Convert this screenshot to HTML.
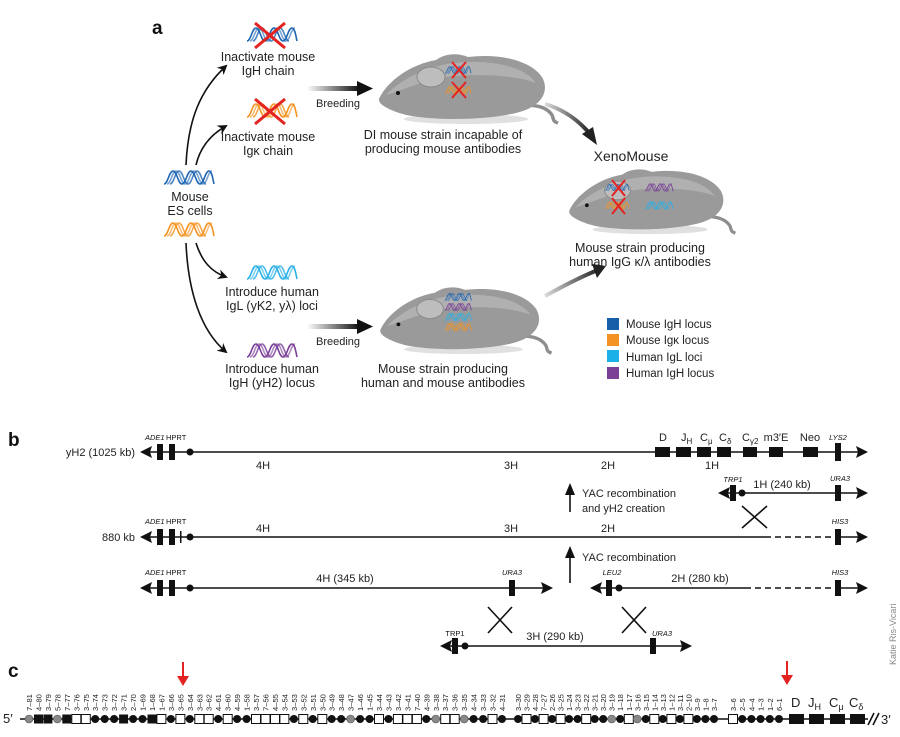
<!DOCTYPE html>
<html><head><meta charset="utf-8"><style>
html,body{margin:0;padding:0;background:#fff;}
svg{display:block;font-family:"Liberation Sans",sans-serif;}
.t{font-size:12.5px;fill:#222;text-anchor:middle}
.s{font-size:11px;fill:#222}
.i{font-size:7.5px;font-style:italic;fill:#111}
.g{font-size:7.5px;fill:#222}
.lb{font-size:7.6px;fill:#222}
</style></head><body>
<svg width="900" height="737" viewBox="0 0 900 737" xmlns="http://www.w3.org/2000/svg">
<defs>
<symbol id="dna" viewBox="0 0 50 15" overflow="visible">
<g fill="none" stroke="currentColor" stroke-width="1.6">
<path d="M0,14 C4,14 5,1 9,1 C13,1 14,14 18,14 C22,14 23,1 27,1 C31,1 32,14 36,14 C40,14 41,1 45,1 C48,1 49,10 50,14"/>
<path d="M3,14 C7,14 8,1 12,1 C16,1 17,14 21,14 C25,14 26,1 30,1 C34,1 35,14 39,14 C43,14 44,1 48,1" opacity=".6"/>
<path d="M6,14 C10,14 11,1 15,1 C19,1 20,14 24,14 C28,14 29,1 33,1 C37,1 38,14 42,14" opacity=".8"/>
</g></symbol>
<symbol id="mouse" viewBox="0 0 180 70" overflow="visible">
<ellipse cx="90" cy="64" rx="62" ry="5" fill="#d8d8d8" opacity=".8"/>
<path d="M148,50 C165,50 172,54 176,60 C178,64 176,66 182,68" fill="none" stroke="#8e8e8e" stroke-width="3.5"/>
<path d="M3,44 C10,28 32,10 60,5 C70,-2 82,-2 92,2 C125,-2 155,6 166,22 C174,36 166,52 140,58 C110,65 60,66 30,60 C15,56 2,50 3,44 Z" fill="#9a9a9a"/>
<path d="M10,40 C25,24 55,8 90,7 C125,6 150,14 160,28 C140,20 100,18 70,22 C45,26 25,36 10,40 Z" fill="#b0b0b0"/>
<ellipse cx="55" cy="22" rx="14" ry="10" fill="#bdbdbd" stroke="#8a8a8a"/>
<circle cx="22" cy="38" r="2" fill="#111"/>
</symbol>
<marker id="ah" markerWidth="10" markerHeight="10" refX="8" refY="5" orient="auto" markerUnits="userSpaceOnUse"><path d="M0,0 L10,5 L0,10 L3,5 Z" fill="#111"/></marker>
<g id="bc"><circle cx="0" cy="719" r="4" fill="#111"/></g>
<g id="gc"><circle cx="0" cy="719" r="4" fill="#888" stroke="#555" stroke-width=".6"/></g>
<g id="ws"><rect x="-4.5" y="714.5" width="9" height="9" fill="#fff" stroke="#111" stroke-width="1"/></g>
<g id="bs"><rect x="-4.5" y="714.5" width="9" height="9" fill="#111"/></g>
</defs>

<text x="152" y="34" style="font-size:19px;font-weight:bold" fill="#111">a</text>

<use href="#dna" x="247" y="27" width="50" height="15" style="color:#1f66b3"/>
<path d="M255,23 L285,48 M285,23 L255,48" stroke="#e42320" stroke-width="3"/>
<text class="t" x="268" y="61">Inactivate mouse</text>
<text class="t" x="268" y="75">IgH chain</text>

<use href="#dna" x="247" y="103" width="50" height="15" style="color:#f39321"/>
<path d="M255,99 L285,124 M285,99 L255,124" stroke="#e42320" stroke-width="3"/>
<text class="t" x="268" y="141">Inactivate mouse</text>
<text class="t" x="268" y="155">Igκ chain</text>

<use href="#dna" x="164" y="170" width="50" height="15" style="color:#1f66b3"/>
<text class="t" x="190" y="201">Mouse</text>
<text class="t" x="190" y="215">ES cells</text>
<use href="#dna" x="164" y="222" width="50" height="15" style="color:#f39321"/>

<use href="#dna" x="247" y="265" width="50" height="15" style="color:#2ab0e6"/>
<text class="t" x="272" y="296">Introduce human</text>
<text class="t" x="272" y="310">IgL (yK2, yλ) loci</text>

<use href="#dna" x="247" y="343" width="50" height="15" style="color:#7b3f98"/>
<text class="t" x="272" y="373">Introduce human</text>
<text class="t" x="272" y="387">IgH (yH2) locus</text>

<g fill="none" stroke="#111" stroke-width="1.6" marker-end="url(#ah)">
<path d="M186,165 C188,120 200,90 226,66"/>
<path d="M196,165 C200,148 210,135 226,126"/>
<path d="M196,243 C202,262 212,272 226,277"/>
<path d="M186,243 C188,290 200,330 226,352"/>
</g>

<defs><linearGradient id="gr" x1="0" x2="1"><stop offset="0" stop-color="#fff"/><stop offset="1" stop-color="#111"/></linearGradient>
<linearGradient id="gr2" x1="0" x2="1" y1="0" y2="0"><stop offset="0" stop-color="#ddd"/><stop offset="1" stop-color="#222"/></linearGradient></defs>
<rect x="307" y="86" width="52" height="5" fill="url(#gr)"/>
<path d="M357,81 L373,88.5 L357,96 Z" fill="#111"/>
<text class="s" x="316" y="107">Breeding</text>
<rect x="307" y="324" width="52" height="5" fill="url(#gr)"/>
<path d="M357,319 L373,326.5 L357,334 Z" fill="#111"/>
<text class="s" x="316" y="345">Breeding</text>

<use href="#mouse" x="376" y="55" width="180" height="70"/>
<use href="#dna" x="445" y="65" width="26" height="10" style="color:#1f66b3"/>
<path d="M452,62 L466,78 M466,62 L452,78" stroke="#e42320" stroke-width="2"/>
<use href="#dna" x="445" y="85" width="26" height="10" style="color:#f39321"/>
<path d="M452,82 L466,98 M466,82 L452,98" stroke="#e42320" stroke-width="2"/>
<text class="t" x="443" y="139">DI mouse strain incapable of</text>
<text class="t" x="443" y="153">producing mouse antibodies</text>

<use href="#mouse" x="376" y="288" width="175" height="67"/>
<use href="#dna" x="444" y="293" width="28" height="8" style="color:#1f66b3"/>
<use href="#dna" x="444" y="303" width="28" height="8" style="color:#7b3f98"/>
<use href="#dna" x="444" y="313" width="28" height="8" style="color:#2ab0e6"/>
<use href="#dna" x="444" y="323" width="28" height="8" style="color:#f39321"/>
<text class="t" x="443" y="373">Mouse strain producing</text>
<text class="t" x="443" y="387">human and mouse antibodies</text>

<path d="M545,104 C565,110 580,122 590,134" fill="none" stroke="url(#gr2)" stroke-width="4"/>
<path d="M582,134 L597,145 L593,127 Z" fill="#222"/>
<path d="M545,296 C565,285 585,275 598,270" fill="none" stroke="url(#gr2)" stroke-width="4"/>
<path d="M592,264 L606,266 L597,278 Z" fill="#222"/>

<text class="t" x="631" y="161" style="font-size:14px">XenoMouse</text>
<use href="#mouse" x="565" y="170" width="170" height="65"/>
<use href="#dna" x="605" y="183" width="24" height="9" style="color:#1f66b3"/>
<path d="M612,180 L625,196 M625,180 L612,196" stroke="#e42320" stroke-width="2"/>
<use href="#dna" x="645" y="183" width="28" height="9" style="color:#7b3f98"/>
<use href="#dna" x="605" y="201" width="24" height="9" style="color:#f39321"/>
<path d="M612,198 L625,214 M625,198 L612,214" stroke="#e42320" stroke-width="2"/>
<use href="#dna" x="645" y="201" width="28" height="9" style="color:#2ab0e6"/>
<text class="t" x="640" y="252">Mouse strain producing</text>
<text class="t" x="640" y="266">human IgG κ/λ antibodies</text>

<rect x="607" y="318" width="12" height="12" fill="#1560a8"/>
<rect x="607" y="334" width="12" height="12" fill="#f39321"/>
<rect x="607" y="350" width="12" height="12" fill="#1bb0e8"/>
<rect x="607" y="367" width="12" height="12" fill="#7b3f98"/>
<text class="s" x="626" y="328" style="font-size:11.5px">Mouse IgH locus</text>
<text class="s" x="626" y="344" style="font-size:11.5px">Mouse Igκ locus</text>
<text class="s" x="626" y="361" style="font-size:11.5px">Human IgL loci</text>
<text class="s" x="626" y="377" style="font-size:11.5px">Human IgH locus</text>

<text x="8" y="446" style="font-size:19px;font-weight:bold" fill="#111">b</text>
<g stroke="#111" stroke-width="1.6" fill="none">
<line x1="148" y1="452" x2="860" y2="452"/>
<line x1="148" y1="537" x2="765" y2="537"/>
<line x1="765" y1="537" x2="835" y2="537" stroke-dasharray="6,4"/>
<line x1="840" y1="537" x2="860" y2="537"/>
<line x1="725" y1="493" x2="860" y2="493"/>
<line x1="148" y1="588" x2="545" y2="588"/>
<line x1="596" y1="588" x2="745" y2="588"/>
<line x1="745" y1="588" x2="835" y2="588" stroke-dasharray="6,4"/>
<line x1="840" y1="588" x2="860" y2="588"/>
<line x1="445" y1="646" x2="685" y2="646"/>
<line x1="570" y1="512" x2="570" y2="490"/>
<line x1="570" y1="583" x2="570" y2="553"/>
<path d="M742,506 L767,528 M767,506 L742,528"/>
<path d="M488,607 L512,633 M512,607 L488,633"/>
<path d="M622,607 L646,633 M646,607 L622,633"/>
</g>
<g fill="#111">
<path d="M140,452 L152,446 L150,452 L152,458 Z"/><path d="M868,452 L856,446 L858,452 L856,458 Z"/>
<path d="M140,537 L152,531 L150,537 L152,543 Z"/><path d="M868,537 L856,531 L858,537 L856,543 Z"/>
<path d="M718,493 L730,487 L728,493 L730,499 Z"/><path d="M868,493 L856,487 L858,493 L856,499 Z"/>
<path d="M140,588 L152,582 L150,588 L152,594 Z"/><path d="M553,588 L541,582 L543,588 L541,594 Z"/>
<path d="M590,588 L602,582 L600,588 L602,594 Z"/><path d="M868,588 L856,582 L858,588 L856,594 Z"/>
<path d="M440,646 L452,640 L450,646 L452,652 Z"/><path d="M692,646 L680,640 L682,646 L680,652 Z"/>
<path d="M570,483 L565,495 L575,495 Z"/><path d="M570,546 L565,558 L575,558 Z"/>
<rect x="157" y="444" width="6" height="16"/><rect x="169" y="444" width="6" height="16"/><circle cx="190" cy="452" r="3.5"/>
<rect x="655" y="447" width="15" height="10"/><rect x="676" y="447" width="15" height="10"/><rect x="697" y="447" width="14" height="10"/><rect x="717" y="447" width="14" height="10"/>
<rect x="743" y="447" width="14" height="10"/><rect x="769" y="447" width="14" height="10"/><rect x="803" y="447" width="15" height="10"/><rect x="835" y="443" width="6" height="18"/>
<rect x="730" y="485" width="6" height="16"/><circle cx="742" cy="493" r="3.5"/><rect x="835" y="485" width="6" height="16"/>
<rect x="157" y="529" width="6" height="16"/><rect x="169" y="529" width="6" height="16"/><rect x="180" y="531" width="1.5" height="12"/><circle cx="190" cy="537" r="3.5"/><rect x="835" y="529" width="6" height="16"/>
<rect x="157" y="580" width="6" height="16"/><rect x="169" y="580" width="6" height="16"/><circle cx="190" cy="588" r="3.5"/><rect x="509" y="580" width="6" height="16"/>
<rect x="606" y="580" width="6" height="16"/><circle cx="619" cy="588" r="3.5"/><rect x="835" y="580" width="6" height="16"/>
<rect x="452" y="638" width="6" height="16"/><circle cx="465" cy="646" r="3.5"/><rect x="650" y="638" width="6" height="16"/>
</g>
<g class="s" style="font-size:11px">
<text x="135" y="456" text-anchor="end">yH2 (1025 kb)</text>
<text x="135" y="541" text-anchor="end">880 kb</text>
<text x="263" y="469" text-anchor="middle">4H</text><text x="511" y="469" text-anchor="middle">3H</text><text x="608" y="469" text-anchor="middle">2H</text><text x="712" y="469" text-anchor="middle">1H</text>
<text x="263" y="532" text-anchor="middle">4H</text><text x="511" y="532" text-anchor="middle">3H</text><text x="608" y="532" text-anchor="middle">2H</text>
<text x="782" y="488" text-anchor="middle">1H (240 kb)</text>
<text x="582" y="497">YAC recombination</text>
<text x="582" y="512">and yH2 creation</text>
<text x="582" y="561">YAC recombination</text>
<text x="345" y="582" text-anchor="middle">4H (345 kb)</text>
<text x="700" y="582" text-anchor="middle">2H (280 kb)</text>
<text x="555" y="640" text-anchor="middle">3H (290 kb)</text>
<text x="663" y="441" text-anchor="middle">D</text>
<text x="681" y="441">J<tspan dy="3" style="font-size:8px">H</tspan></text>
<text x="700" y="441">C<tspan dy="3" style="font-size:8px">μ</tspan></text>
<text x="719" y="441">C<tspan dy="3" style="font-size:8px">δ</tspan></text>
<text x="742" y="441">C<tspan dy="3" style="font-size:8px">γ2</tspan></text>
<text x="776" y="441" text-anchor="middle">m3′E</text>
<text x="810" y="441" text-anchor="middle">Neo</text>
</g>
<g class="i">
<text x="145" y="440">ADE1</text><text x="166" y="440" style="font-style:normal">HPRT</text>
<text x="145" y="524">ADE1</text><text x="166" y="524" style="font-style:normal">HPRT</text>
<text x="145" y="575">ADE1</text><text x="166" y="575" style="font-style:normal">HPRT</text>
<text x="838" y="440" text-anchor="middle">LYS2</text>
<text x="733" y="482" text-anchor="middle">TRP1</text><text x="840" y="481" text-anchor="middle">URA3</text>
<text x="840" y="524" text-anchor="middle">HIS3</text><text x="840" y="575" text-anchor="middle">HIS3</text>
<text x="512" y="575" text-anchor="middle">URA3</text><text x="612" y="575" text-anchor="middle">LEU2</text>
<text x="455" y="636" text-anchor="middle" style="font-style:normal">TRP1</text><text x="662" y="636" text-anchor="middle">URA3</text>
</g>
<text x="896" y="665" transform="rotate(-90 896 665)" style="font-size:9px" fill="#888">Katie Ris-Vicari</text>

<text x="8" y="677" style="font-size:19px;font-weight:bold" fill="#111">c</text>
<g fill="#e42320" stroke="#e42320" stroke-width="2">
<line x1="183" y1="662" x2="183" y2="678"/><path d="M177,676 L189,676 L183,686 Z" stroke="none"/>
<line x1="787" y1="661" x2="787" y2="677"/><path d="M781,675 L793,675 L787,685 Z" stroke="none"/>
</g>
<text x="3" y="723" style="font-size:13px" fill="#222">5′</text>
<line x1="20" y1="719" x2="868" y2="719" stroke="#111" stroke-width="1.5"/>
<path d="M868,725 L874,713 M873,725 L879,713" stroke="#111" stroke-width="1.6"/>
<text x="881" y="724" style="font-size:13px" fill="#222">3′</text>
<g fill="#111"><rect x="789" y="714" width="15" height="10"/><rect x="809" y="714" width="15" height="10"/><rect x="830" y="714" width="15" height="10"/><rect x="850" y="714" width="15" height="10"/></g>
<g style="font-size:13px" fill="#222">
<text x="791" y="707">D</text>
<text x="808" y="707">J<tspan dy="3" style="font-size:9px">H</tspan></text>
<text x="829" y="707">C<tspan dy="3" style="font-size:9px">μ</tspan></text>
<text x="849" y="707">C<tspan dy="3" style="font-size:9px">δ</tspan></text>
</g>

<use href="#gc" x="29"/><use href="#bs" x="38.5"/><use href="#bs" x="47.9"/><use href="#gc" x="57.4"/><use href="#bs" x="66.8"/>
<use href="#ws" x="76.3"/><use href="#ws" x="85.8"/><use href="#bc" x="95.2"/><use href="#bc" x="104.7"/><use href="#bc" x="114.1"/>
<use href="#bs" x="123.6"/><use href="#bc" x="133.1"/><use href="#bc" x="142.5"/><use href="#bs" x="152"/><use href="#ws" x="161.4"/>
<use href="#bc" x="170.9"/><use href="#ws" x="180.4"/><use href="#bc" x="189.8"/><use href="#ws" x="199.3"/><use href="#ws" x="208.7"/>
<use href="#bc" x="218.2"/><use href="#ws" x="227.7"/><use href="#bc" x="237.1"/><use href="#bc" x="246.6"/><use href="#ws" x="256"/>
<use href="#ws" x="265.5"/><use href="#ws" x="275"/><use href="#ws" x="284.4"/><use href="#bc" x="293.9"/><use href="#ws" x="303.3"/>
<use href="#bc" x="312.8"/><use href="#ws" x="322.3"/><use href="#bc" x="331.7"/><use href="#bc" x="341.2"/><use href="#gc" x="350.6"/>
<use href="#bc" x="360.1"/><use href="#bc" x="369.6"/><use href="#ws" x="379"/><use href="#bc" x="388.5"/><use href="#ws" x="397.9"/>
<use href="#ws" x="407.4"/><use href="#ws" x="416.9"/><use href="#bc" x="426.3"/><use href="#gc" x="435.8"/><use href="#ws" x="445.2"/>
<use href="#ws" x="454.7"/><use href="#gc" x="464.2"/><use href="#bc" x="473.6"/><use href="#bc" x="483.1"/><use href="#ws" x="492.5"/><use href="#bc" x="502"/>
<use href="#bc" x="518"/><use href="#ws" x="526.5"/><use href="#bc" x="535"/><use href="#ws" x="543.6"/><use href="#bc" x="552.1"/>
<use href="#ws" x="560.6"/><use href="#bc" x="569.1"/><use href="#bc" x="577.6"/><use href="#ws" x="586.2"/><use href="#bc" x="594.7"/>
<use href="#bc" x="603.2"/><use href="#gc" x="611.7"/><use href="#bc" x="620.2"/><use href="#ws" x="628.8"/><use href="#gc" x="637.3"/>
<use href="#bc" x="645.8"/><use href="#ws" x="654.3"/><use href="#bc" x="662.8"/><use href="#ws" x="671.4"/><use href="#bc" x="679.9"/>
<use href="#ws" x="688.4"/><use href="#bc" x="696.9"/><use href="#bc" x="705.4"/><use href="#bc" x="714"/>
<use href="#ws" x="733"/><use href="#bc" x="742.2"/><use href="#bc" x="751.4"/><use href="#bc" x="760.6"/><use href="#bc" x="769.8"/><use href="#bc" x="779"/>

<g class="lb">
<text transform="translate(32,711) rotate(-90)">7–81</text><text transform="translate(41.5,711) rotate(-90)">4–80</text><text transform="translate(50.9,711) rotate(-90)">3–79</text><text transform="translate(60.4,711) rotate(-90)">5–78</text><text transform="translate(69.8,711) rotate(-90)">7–77</text>
<text transform="translate(79.3,711) rotate(-90)">3–76</text><text transform="translate(88.8,711) rotate(-90)">3–75</text><text transform="translate(98.2,711) rotate(-90)">3–74</text><text transform="translate(107.7,711) rotate(-90)">3–73</text><text transform="translate(117.1,711) rotate(-90)">3–72</text>
<text transform="translate(126.6,711) rotate(-90)">3–71</text><text transform="translate(136.1,711) rotate(-90)">2–70</text><text transform="translate(145.5,711) rotate(-90)">1–69</text><text transform="translate(155,711) rotate(-90)">1–68</text><text transform="translate(164.4,711) rotate(-90)">1–67</text>
<text transform="translate(173.9,711) rotate(-90)">3–66</text><text transform="translate(183.4,711) rotate(-90)">3–65</text><text transform="translate(192.8,711) rotate(-90)">3–64</text><text transform="translate(202.3,711) rotate(-90)">3–63</text><text transform="translate(211.7,711) rotate(-90)">3–62</text>
<text transform="translate(221.2,711) rotate(-90)">4–61</text><text transform="translate(230.7,711) rotate(-90)">3–60</text><text transform="translate(240.1,711) rotate(-90)">4–59</text><text transform="translate(249.6,711) rotate(-90)">1–58</text><text transform="translate(259,711) rotate(-90)">3–57</text>
<text transform="translate(268.5,711) rotate(-90)">7–56</text><text transform="translate(278,711) rotate(-90)">4–55</text><text transform="translate(287.4,711) rotate(-90)">3–54</text><text transform="translate(296.9,711) rotate(-90)">3–53</text><text transform="translate(306.3,711) rotate(-90)">3–52</text>
<text transform="translate(315.8,711) rotate(-90)">3–51</text><text transform="translate(325.3,711) rotate(-90)">3–50</text><text transform="translate(334.7,711) rotate(-90)">3–49</text><text transform="translate(344.2,711) rotate(-90)">3–48</text><text transform="translate(353.6,711) rotate(-90)">3–47</text>
<text transform="translate(363.1,711) rotate(-90)">1–46</text><text transform="translate(372.6,711) rotate(-90)">1–45</text><text transform="translate(382,711) rotate(-90)">3–44</text><text transform="translate(391.5,711) rotate(-90)">3–43</text><text transform="translate(400.9,711) rotate(-90)">3–42</text>
<text transform="translate(410.4,711) rotate(-90)">3–41</text><text transform="translate(419.9,711) rotate(-90)">7–40</text><text transform="translate(429.3,711) rotate(-90)">4–39</text><text transform="translate(438.8,711) rotate(-90)">3–38</text><text transform="translate(448.2,711) rotate(-90)">3–37</text>
<text transform="translate(457.7,711) rotate(-90)">3–36</text><text transform="translate(467.2,711) rotate(-90)">3–35</text><text transform="translate(476.6,711) rotate(-90)">4–34</text><text transform="translate(486.1,711) rotate(-90)">3–33</text><text transform="translate(495.5,711) rotate(-90)">3–32</text><text transform="translate(505,711) rotate(-90)">4–31</text>
<text transform="translate(521,711) rotate(-90)">3–30</text><text transform="translate(529.5,711) rotate(-90)">3–29</text><text transform="translate(538,711) rotate(-90)">4–28</text><text transform="translate(546.6,711) rotate(-90)">7–27</text><text transform="translate(555.1,711) rotate(-90)">2–26</text>
<text transform="translate(563.6,711) rotate(-90)">3–25</text><text transform="translate(572.1,711) rotate(-90)">1–24</text><text transform="translate(580.6,711) rotate(-90)">3–23</text><text transform="translate(589.2,711) rotate(-90)">3–22</text><text transform="translate(597.7,711) rotate(-90)">3–21</text>
<text transform="translate(606.2,711) rotate(-90)">3–20</text><text transform="translate(614.7,711) rotate(-90)">3–19</text><text transform="translate(623.2,711) rotate(-90)">1–18</text><text transform="translate(631.8,711) rotate(-90)">1–17</text><text transform="translate(640.3,711) rotate(-90)">3–16</text>
<text transform="translate(648.8,711) rotate(-90)">3–15</text><text transform="translate(657.3,711) rotate(-90)">1–14</text><text transform="translate(665.8,711) rotate(-90)">3–13</text><text transform="translate(674.4,711) rotate(-90)">1–12</text><text transform="translate(682.9,711) rotate(-90)">3–11</text>
<text transform="translate(691.4,711) rotate(-90)">2–10</text><text transform="translate(699.9,711) rotate(-90)">3–9</text><text transform="translate(708.4,711) rotate(-90)">1–8</text><text transform="translate(717,711) rotate(-90)">3–7</text>
<text transform="translate(736,711) rotate(-90)">3–6</text><text transform="translate(745.2,711) rotate(-90)">2–5</text><text transform="translate(754.4,711) rotate(-90)">4–4</text><text transform="translate(763.6,711) rotate(-90)">1–3</text><text transform="translate(772.8,711) rotate(-90)">1–2</text><text transform="translate(782,711) rotate(-90)">6–1</text>
</g>
</svg>
</body></html>
